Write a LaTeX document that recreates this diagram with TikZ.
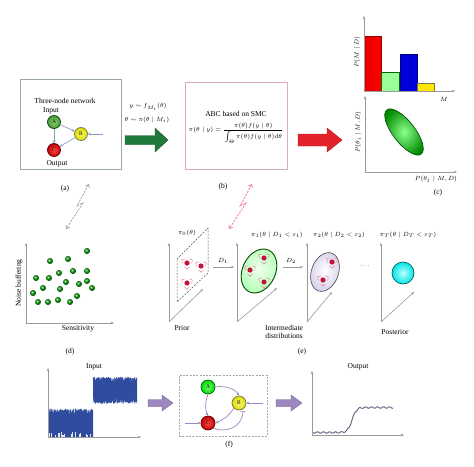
\documentclass[tikz,border=0pt]{standalone}
\usepackage{fontspec}
\setmainfont{Liberation Serif}
\usetikzlibrary{arrows.meta,shapes.geometric,calc}
\definecolor{axisgray}{HTML}{9A9A9A}
\definecolor{netline}{HTML}{8E9CC4}
\definecolor{arrgreen}{HTML}{1E7A3C}
\definecolor{arrred}{HTML}{E3232B}
\definecolor{arrpurple}{HTML}{9C88C0}
\definecolor{noiseblue}{HTML}{2F4C9E}
\definecolor{partred}{HTML}{C4123C}
\definecolor{partpink}{HTML}{E87C9C}
\definecolor{boxacol}{HTML}{98AAA2}
\definecolor{boxbcol}{HTML}{D9AEB6}
\definecolor{lav}{HTML}{D6D2EC}
\definecolor{agreenin}{HTML}{86CF6E}
\definecolor{agreenout}{HTML}{4A9A3A}
\tikzset{
  particle/.pic={
    \fill[partred] (0,0) circle[radius=2.6];
    \foreach \a in {90,210,330}{
      \draw[partpink, line width=0.45pt] (\a-35:4.6) -- (\a:6.2) -- (\a+35:4.6);
    }
  }
}
\begin{document}
\begin{tikzpicture}[x=1pt,y=-1pt,
  font=\fontsize{7.5}{8.6}\selectfont,
  axis/.style={draw=axisgray, line width=0.6pt, -{Stealth[length=3.2pt,width=2.6pt]}},
  netnode/.style={circle, minimum size=13pt, inner sep=0pt, line width=0.7pt, font=\fontsize{5.5}{5.5}\selectfont},
  netedge/.style={draw=netline, line width=0.7pt, -{Stealth[length=3pt,width=3pt]}},
  fedge/.style={draw=arrpurple, line width=0.7pt, -{Stealth[length=3pt,width=3pt]}},
  fbar/.style={draw=arrpurple, line width=0.7pt, -{Bar[width=5pt]}},
  zigbolt/.style={dash pattern=on 2.2pt off 1.2pt, line width=0.8pt, {Straight Barb[length=2.8pt,width=4.5pt]}-{Straight Barb[length=2.8pt,width=4.5pt]}},
  smallarrow/.style={draw=axisgray, line width=0.6pt, -{Stealth[length=3pt,width=2.6pt]}},
  lbl/.style={inner sep=0.5pt},
  mlbl/.style={inner sep=0.5pt, font=\fontsize{6.4}{7.4}\selectfont}
]
\useasboundingbox (0,0) rectangle (474,466);

%%%%%%%%%%%%%%%% (a)
\node[draw=boxacol, line width=0.7pt, minimum width=101pt, minimum height=90pt, inner sep=0pt] (boxa) at (70.5,124) {};
\node[lbl] (tnn) at (65,101) {Three-node network};
\node[lbl] (ina) at (51,111) {Input};
\node[netnode, draw=green!30!black, inner color=agreenin, outer color=agreenout] (A) at (54,122) {A};
\node[netnode, draw=yellow!40!black, inner color=yellow!60!white, outer color=yellow!85!black] (B) at (81,134) {B};
\node[netnode, draw=red!40!black, inner color=red!70!white, outer color=red!75!black] (C) at (54,150) {C};
\node[lbl] (outa) at (57,163.5) {Output};
\coordinate (inB) at (103,134);
\draw[netedge] (A) -- (B);
\draw[netedge] (A) -- (C);
\draw[netedge] (B) -- (C);
\draw[netedge] (inB) -- (B);
\node[lbl] (la) at (65,189) {(a)};

% green arrow
\fill[arrgreen, draw=arrgreen!70!black, line width=0.4pt] (125,135.5) -- (155,135.5) -- (155,128) -- (168,140) -- (155,152) -- (155,144.5) -- (125,144.5) -- cycle;
\node[mlbl] (eq1) at (148,107) {$y\sim f_{M_i}(\theta)$};
\node[mlbl] (eq2) at (147,120) {$\theta\sim \pi(\theta\mid M_i)$};

%%%%%%%%%%%%%%%% (b)
\node[draw=boxbcol, line width=0.7pt, minimum width=102pt, minimum height=87pt, inner sep=0pt] (boxb) at (236,125.5) {};
\node[lbl] (abc) at (236,114) {ABC based on SMC};
\node[lbl, font=\fontsize{5.8}{6.5}\selectfont] (bayes) at (236,133) {$\pi(\theta\mid y)={\displaystyle\frac{\pi(\theta)f(y\mid\theta)}{\int_{\Theta}\pi(\theta)f(y\mid\theta)d\theta}}$};
\node[lbl] (lb) at (223,187) {(b)};

% red arrow
\fill[arrred, draw=arrred!75!black, line width=0.4pt] (298,134) -- (327,134) -- (327,128) -- (342,140) -- (327,152) -- (327,146) -- (298,146) -- cycle;

%%%%%%%%%%%%%%%% (c)
% bar chart
\shade[left color=red!90!black, middle color=red!45!white, right color=red, draw=red!60!black, line width=0.4pt] (364,36) rectangle (381,91);
\shade[left color=green!40!white, middle color=white, right color=green!40!white, draw=green!40!black, line width=0.4pt] (381,72) rectangle (399,91);
\shade[left color=blue!85!black, middle color=blue!15!white, right color=blue!85!black, draw=blue!50!black, line width=0.4pt] (400,54) rectangle (417,91);
\fill[yellow!90!orange, draw=yellow!40!black, line width=0.4pt] (417,83) rectangle (434,91);
\coordinate (c1o) at (364,91);
\coordinate (c1y) at (364,16);
\coordinate (c1x) at (455,91);
\draw[axis] (c1o) -- (c1y);
\draw[axis] (c1o) -- (c1x);
\node[mlbl, rotate=90] (pmd) at (357,52) {$P(M\mid D)$};
\node[mlbl] (mlab) at (444,99) {$M$};
% ellipse chart
\coordinate (c2o) at (365,172);
\coordinate (c2y) at (365,96);
\coordinate (c2x) at (457,172);
\draw[axis] (c2o) -- (c2y);
\draw[axis] (c2o) -- (c2x);
\node[ellipse, minimum width=56pt, minimum height=22pt, rotate=-52, draw=green!25!black, line width=0.6pt, inner color=green!45!white, outer color=green!55!black] (ell) at (404,132) {};
\node[mlbl, rotate=90] (pti) at (358,132) {$P(\theta_i\mid M,D)$};
\node[mlbl] (ptj) at (436,179) {$P(\theta_j\mid M,D)$};
\node[lbl] (lc) at (438,193) {(c)};

%%%%%%%%%%%%%%%% zigzag connectors
\draw[zigbolt, draw=gray!70] (89,184) -- (77,206) -- (83,203) -- (66,229);
\draw[zigbolt, draw=partpink] (252,184) -- (240,206) -- (246,203) -- (229,229);

%%%%%%%%%%%%%%%% (d)
\coordinate (dox) at (26,323);
\coordinate (doy) at (26,243);
\coordinate (dxx) at (114,323);
\draw[axis] (dox) -- (doy);
\draw[axis] (dox) -- (dxx);
\node[lbl, rotate=90] (nb) at (19,283) {Noise buffering};
\node[lbl] (sens) at (78,328.5) {Sensitivity};
\node[lbl] (ld) at (70,352) {(d)};
\foreach \px/\py in {50/261,68/259,87/251,36/278,49/278,59/273,73/271,87/271,43/288,60/289,66/282,79/284,87/281,92/288,33/293,38/302,48/302,58/300,70/302,77/296}{
  \shade[ball color=green!60!black] (\px,\py) circle[radius=3];
}

%%%%%%%%%%%%%%%% (e)
% prior panel
\coordinate (p0o) at (169,322);
\coordinate (p0y) at (169,243);
\coordinate (p0d) at (203,289);
\draw[axis] (p0o) -- (p0y);
\draw[axis] (p0o) -- (p0d);
\draw[gray!70!black, dash pattern=on 2pt off 1.3pt, line width=0.5pt] (177,259) -- (208,228) -- (208,273) -- (177,302) -- cycle;
\node[mlbl] (pi0) at (187,233) {$\pi_0(\theta)$};
\pic at (187,263) {particle};
\pic at (201,266) {particle};
\pic at (187,283) {particle};
\node[lbl] (prior) at (182,328.5) {Prior};
\coordinate (d1s) at (213,267);
\coordinate (d1e) at (234,267);
\draw[smallarrow] (d1s) -- (d1e);
\node[mlbl] (d1) at (223,261) {$D_1$};

% panel 1
\coordinate (p1o) at (237,322);
\coordinate (p1y) at (237,243);
\coordinate (p1d) at (277,288);
\draw[axis] (p1o) -- (p1y);
\draw[axis] (p1o) -- (p1d);
\node[ellipse, minimum width=33pt, minimum height=46pt, rotate=-25, draw=green!30!black, line width=0.9pt, inner color=green!6!white, outer color=green!28!white] (e1) at (259,271) {};
\pic at (264,258) {particle};
\pic at (250,270) {particle};
\pic at (264,282) {particle};
\node[mlbl] (pi1) at (277,235) {$\pi_1(\theta\mid D_1<\varepsilon_1)$};
\coordinate (d2s) at (283,267);
\coordinate (d2e) at (303,267);
\draw[smallarrow] (d2s) -- (d2e);
\node[mlbl] (d2) at (291,261) {$D_2$};

% panel 2
\coordinate (p2o) at (307,322);
\coordinate (p2y) at (307,243);
\coordinate (p2d) at (332,292);
\draw[axis] (p2o) -- (p2y);
\draw[axis] (p2o) -- (p2d);
\node[ellipse, minimum width=27pt, minimum height=40pt, rotate=-20, draw=gray!55!black, line width=0.6pt, inner color=white, outer color=lav] (e2) at (325,272) {};
\pic at (332,262) {particle};
\pic at (323,280) {particle};
\node[mlbl] (pi2) at (339,235) {$\pi_2(\theta\mid D_2<\varepsilon_2)$};
\node[mlbl] (dots) at (365,266) {$\cdots$};

% panel T
\coordinate (pTo) at (381,322);
\coordinate (pTy) at (381,243);
\coordinate (pTd) at (414,292);
\draw[axis] (pTo) -- (pTy);
\draw[axis] (pTo) -- (pTd);
\node[circle, minimum size=22pt, inner sep=0pt, draw=teal!60!black, line width=0.6pt, inner color=cyan!25!white, outer color=cyan!80!teal] (cT) at (403,273) {};
\node[mlbl] (piT) at (408,235) {$\pi_T(\theta\mid D_T<\varepsilon_T)$};
\node[lbl] (post) at (395,332.5) {Posterior};
\node[lbl, align=center] (inter) at (284,332) {Intermediate\\distributions};
\node[lbl] (le) at (302,352) {(e)};

%%%%%%%%%%%%%%%% (f)
% input plot
\coordinate (fio) at (48,437);
\coordinate (fiy) at (48,368);
\coordinate (fix) at (141,437);
\pgfmathsetseed{12}
\fill[noiseblue] (48,437) -- plot[domain=48:93, samples=110] (\x,{408.5+2.5*rnd+(rnd>0.9)*4}) -- (93,437) -- cycle;
\fill[noiseblue] plot[domain=93:137, samples=110] (\x,{376.5+2.5*rnd+(rnd>0.9)*4}) -- plot[domain=0:44, samples=110] ({137-\x},{404-2.5*rnd-(rnd>0.88)*4}) -- cycle;
\foreach \i in {1,...,22}{
  \pgfmathsetmacro\xx{49+43*rnd}
  \pgfmathsetmacro\hh{1+3.5*rnd}
  \draw[white!85!noiseblue, line width=0.35pt] (\xx,436.6) -- (\xx,{436.6-\hh});
}
\draw[axis] (fio) -- (fiy);
\draw[axis] (fio) -- (fix);
\node[lbl] (inlab) at (94,367) {Input};

% purple arrows
\fill[arrpurple, draw=arrpurple!70!black, line width=0.3pt] (148,399.5) -- (162,399.5) -- (162,395) -- (173,403) -- (162,411) -- (162,406.5) -- (148,406.5) -- cycle;
\fill[arrpurple, draw=arrpurple!70!black, line width=0.3pt] (276,399.5) -- (291,399.5) -- (291,395) -- (302,403) -- (291,411) -- (291,406.5) -- (276,406.5) -- cycle;

% network box
\node[draw=gray!70, dash pattern=on 2pt off 1.3pt, line width=0.6pt, minimum width=88pt, minimum height=61pt, inner sep=0pt] (boxf) at (223,405.5) {};
\node[netnode, minimum size=14pt, draw=green!40!black, inner color=green!55!white, outer color=green!85!black] (fA) at (208,387) {A};
\node[netnode, minimum size=14pt, draw=yellow!40!black, inner color=yellow!50!white, outer color=yellow!85!black] (fB) at (239,403) {B};
\node[netnode, minimum size=14pt, draw=red!40!black, inner color=red!70!white, outer color=red!75!black] (fC) at (208,423) {C};
\coordinate (finC) at (185,423);
\coordinate (finB) at (263,403);
\draw[fedge] (fA.east) .. controls (227,385) and (236,390) .. (fB.north);
\draw[fedge] (fA.south) .. controls (205,402) and (205,410) .. (fC.north);
\draw[fedge] (finC) -- (fC.west);
\draw[fedge] (finB) -- (fB.east);
\draw[fedge] (fB.south west) .. controls (229,416) and (223,420) .. (fC.east);
\draw[fbar] (fC.south east) .. controls (226,433) and (242,428) .. (243,411);
\node[lbl] (lf) at (229,445) {(f)};

% output plot
\coordinate (foo) at (312,435);
\coordinate (foy) at (312,371);
\coordinate (fox) at (404,435);
\draw[axis] (foo) -- (foy);
\draw[axis] (foo) -- (fox);
\draw[arrpurple!25!white, line width=1.6pt] plot[domain=313:393, samples=140, smooth] (\x,{432.5-25/(1+exp(-max(-8,min(8,(\x-352)/2.2))))+0.7*sin((\x-313)*60)});
\draw[arrpurple!60!black, line width=0.7pt] plot[domain=313:393, samples=140, smooth] (\x,{432.5-25/(1+exp(-max(-8,min(8,(\x-352)/2.2))))+0.7*sin((\x-313)*60)});
\node[lbl] (outlab) at (358,367) {Output};
\end{tikzpicture}
\end{document}
